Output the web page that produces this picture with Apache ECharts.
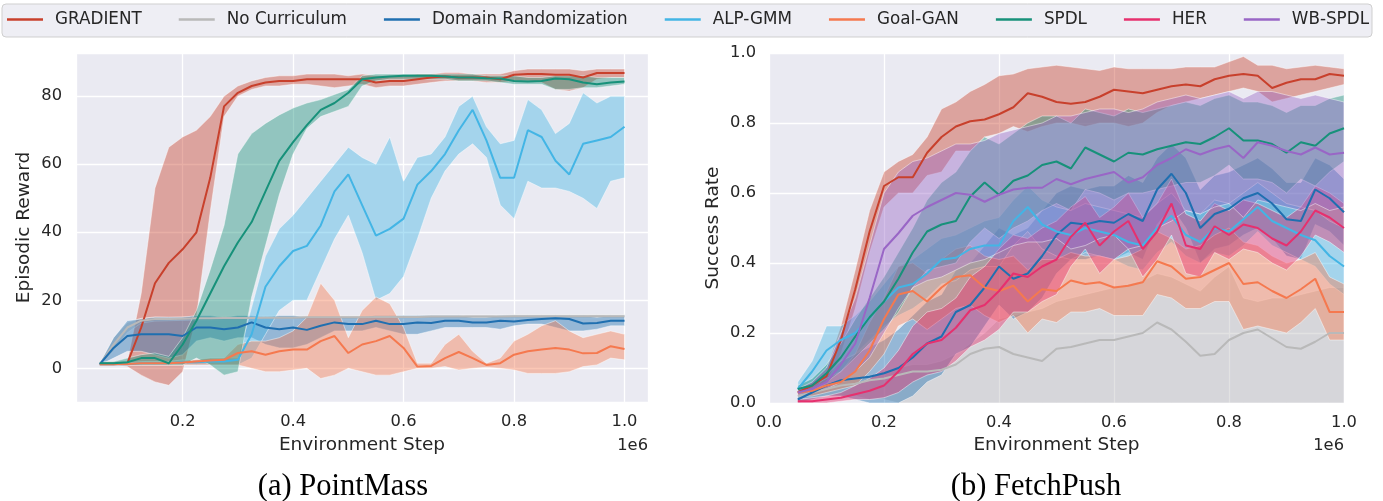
<!DOCTYPE html>
<html lang="en">
<head>
<meta charset="UTF-8">
<title>PointMass / FetchPush</title>
<script src="https://cdn.jsdelivr.net/npm/echarts@6/dist/echarts.min.js"></script>
<style>
    html, body { margin: 0; padding: 0; background: #fff; }
    #main { width: 1383px; height: 501px; }
</style>
</head>
<body>
<div id="main"></div>
<script>
// environment steps (x 1e6)
var steps = [0.05,0.075,0.1,0.125,0.15,0.175,0.2,0.225,0.25,0.275,0.3,0.325,0.35,0.375,0.4,0.425,0.45,0.475,0.5,0.525,0.55,0.575,0.6,0.625,0.65,0.675,0.7,0.725,0.75,0.775,0.8,0.825,0.85,0.875,0.9,0.925,0.95,0.975,1.0];

var methods = ['GRADIENT', 'No Curriculum', 'Domain Randomization', 'ALP-GMM', 'Goal-GAN', 'SPDL', 'HER', 'WB-SPDL'];

// ---- PointMass: episodic reward (mean, lower, upper)
var pmGradientMean = [1.2,1.2,1.5,12,25,31,35,40,56,77,81,83,84,84.5,84.5,85,85,85,85,85,84,84.5,84.5,85,85.5,85.8,85.5,85.5,85.5,85,86.3,86.5,86.5,86.3,86.3,85.5,86.8,86.8,86.8];
var pmGradientLow = [1,1,0.5,-2,-4,-5,-1,15,46,74,80,82,83,83,83.5,83.5,83,82.5,83,83.5,82.5,83,83,83.5,84,84.5,84.5,84.5,84,84,84.5,84.5,84,82,81.5,82.5,85,85.5,85.5];
var pmGradientHigh = [2,2,2,22,53,65,68,70,74,80,83,84.5,85.5,86,86,86.5,86.5,86.5,86,86.5,86,86,86,86.5,86.5,87,87,86.5,86.5,86.5,87.5,88,88,88,88,87.5,88,88,88];

var pmNoneMean = [1.2,7,12,14,14.5,14.5,14.6,14.7,14.7,14.8,14.8,14.8,14.9,14.9,14.9,15,15,15,15,15,15.1,15.1,15.1,15.1,15.2,15.2,15.2,15.2,15.2,15.2,15.3,15.3,15.3,15.3,15.3,15.3,15.3,15.3,15.3];
var pmNoneLow = [1,5,10.5,13.3,13.9,14,14.1,14.2,14.2,14.3,14.3,14.3,14.4,14.4,14.4,14.5,14.5,14.5,14.5,14.5,14.6,14.6,14.6,14.6,14.7,14.7,14.7,14.7,14.7,14.7,14.8,14.8,14.8,14.8,14.8,14.8,14.8,14.8,14.8];
var pmNoneHigh = [1.4,9,13.5,14.7,15.1,15,15.1,15.2,15.2,15.3,15.3,15.3,15.4,15.4,15.4,15.5,15.5,15.5,15.5,15.5,15.6,15.6,15.6,15.6,15.7,15.7,15.7,15.7,15.7,15.7,15.8,15.8,15.8,15.8,15.8,15.8,15.8,15.8,15.8];

var pmDrMean = [1.2,6,9.5,10,10,10,9.5,12,12,11.5,12,13.5,12,11.5,12,11.3,12.5,13.5,13,13,14,13,13,13.5,13.3,14,14,13.5,13.5,14,13.8,14.2,14.5,14.7,14.5,13.2,13.3,14,14];
var pmDrLow = [1,3,5,5,4,3,4,8,9,8,9,9,7,6,6,7,9,11,11,11,12,11,10,10,11,12,12,12,12,11.5,12.5,13,13,12,11,11,11.5,12.5,12.5];
var pmDrHigh = [1.5,9,14,14.5,15,15,15,15.5,15.5,15,15.5,15.5,15,15.5,15.5,15,15,15,15,15,15.5,15.5,15.5,15.5,15.5,15.5,15.5,15,15,15.5,15.5,15.5,15.5,15.5,15.5,15.5,15,15.5,15.5];

var pmAlpMean = [1.2,1.2,1.2,1.5,1.5,1.5,1.8,1.8,2,2,2.5,10,24,30,34.5,36,42,52,57,48,39,41,44,54,58,63,70,76,67,56,56,70,68,61,57,66,67,68,71];
var pmAlpLow = [1,1,1,1,1,1,1,1,1,1,1,3,10,17,20,20,29,38,45,34,20,22,27,38,50,58,63,66,62,48,44,55,53,53,52,50,47,55,56];
var pmAlpHigh = [1.5,1.5,1.5,2,2,2,2.5,2.5,3,3,3,18,33,41,45,50,55,60,65,62,60,68,55,62,63,68,77,80,71,66,67,79,76,69,72,81,78,80,80];

var pmGoalMean = [1.2,1.2,1.3,1.5,1.5,1.5,1.7,2,2.3,2.5,4.5,5,4,5,5.5,5.5,8,9.5,4.5,7,8,9.5,6,0.5,0.7,3,4.8,3,1,1.5,4,5,5.5,6,5.5,4.4,4.5,6.5,5.7];
var pmGoalLow = [1,1,1,1,1,1,1,1,1,1,1,0,-1,-1,-0.5,0,-3,-2,0,-1,-2,-2,-1,0,0,0.5,-0.5,0,0.3,0,-0.5,-1.5,-1.5,-1.5,-1,0.5,1,3,2.5];
var pmGoalHigh = [1.5,1.5,1.6,1.8,2,2,2.2,2.6,3,3,7,8,8,9,11,15,25,20,9,17,21,19,12,1.5,1.5,7,10,5,1.5,3,8,10,12.5,14,11,9,10,11,10];

var pmSpdlMean = [1.5,1.5,1.8,3,3,1.5,7,14,22,30,37,43,52,61,66.5,71.5,76,78,81,85,85.5,85.8,86,86,86,85.8,85.5,85.5,85.3,85.2,84.5,84.3,84.5,85.2,85,84,83.5,84,84.3];
var pmSpdlLow = [1,1,1,1,1,1,1,3,1,-2,-1,21,36,51,63,70.5,74,75.5,77,83,84.5,85,85,85,85,85,84.5,84.5,84.5,84,83.5,83.5,83.5,82,82,82.5,82.5,83,83.5];
var pmSpdlHigh = [2,2,3,4,4.5,3.5,9,17,29,42,63,69,72,74.5,76.5,78,79,80.5,82,86,86.5,86.5,86.5,86.5,86.5,86.5,86.5,86.5,86,86,86,85.5,85.5,86,86,86,85.5,85.5,85.5];

// ---- FetchPush: success rate (mean, lower, upper)
var fpGradientMean = [0.03,0.05,0.077,0.18,0.325,0.49,0.62,0.645,0.645,0.715,0.76,0.79,0.805,0.81,0.825,0.845,0.885,0.875,0.86,0.855,0.86,0.875,0.895,0.89,0.885,0.895,0.905,0.91,0.905,0.925,0.935,0.94,0.935,0.9,0.915,0.925,0.925,0.94,0.935];
var fpGradientLow = [0.02,0.04,0.06,0.14,0.27,0.43,0.56,0.6,0.6,0.65,0.66,0.72,0.72,0.76,0.77,0.79,0.775,0.79,0.8,0.8,0.79,0.8,0.8,0.79,0.8,0.83,0.85,0.86,0.87,0.88,0.89,0.9,0.89,0.86,0.87,0.88,0.89,0.9,0.91];
var fpGradientHigh = [0.04,0.06,0.1,0.22,0.38,0.55,0.66,0.69,0.71,0.76,0.84,0.86,0.89,0.91,0.935,0.94,0.955,0.96,0.965,0.96,0.955,0.95,0.96,0.955,0.955,0.955,0.955,0.96,0.96,0.96,0.975,0.99,0.965,0.965,0.955,0.96,0.965,0.96,0.955];

var fpNoneMean = [0.02,0.03,0.04,0.05,0.055,0.065,0.07,0.08,0.09,0.09,0.095,0.11,0.14,0.155,0.16,0.14,0.13,0.12,0.155,0.16,0.17,0.18,0.18,0.19,0.2,0.23,0.21,0.175,0.135,0.14,0.18,0.2,0.21,0.185,0.16,0.155,0.175,0.2,0.2];
var fpNoneLow = [0.01,0.015,0.02,0.02,0.02,0.01,0.01,0,0,0,0,0,0,0,0,0,0,0,0,0,0,0,0,0,0,0,0,0,0,0,0,0,0,0,0,0,0,0,0];
var fpNoneHigh = [0.03,0.04,0.05,0.06,0.07,0.08,0.09,0.1,0.11,0.11,0.12,0.14,0.17,0.2,0.24,0.25,0.26,0.27,0.29,0.3,0.31,0.32,0.33,0.34,0.35,0.37,0.36,0.34,0.32,0.36,0.39,0.3,0.29,0.3,0.3,0.31,0.32,0.33,0.33];

var fpDrMean = [0.01,0.03,0.05,0.065,0.07,0.075,0.085,0.1,0.13,0.17,0.19,0.26,0.28,0.33,0.39,0.355,0.37,0.42,0.48,0.515,0.51,0.52,0.515,0.54,0.52,0.61,0.655,0.6,0.5,0.54,0.555,0.585,0.6,0.57,0.525,0.52,0.61,0.585,0.545];
var fpDrLow = [0,0.01,0.02,0.02,0.01,0,0,0,0.02,0.06,0.08,0.14,0.16,0.22,0.28,0.24,0.26,0.3,0.37,0.41,0.41,0.42,0.41,0.43,0.41,0.51,0.56,0.5,0.4,0.44,0.45,0.48,0.5,0.47,0.42,0.41,0.51,0.49,0.45];
var fpDrHigh = [0.02,0.05,0.09,0.12,0.14,0.16,0.18,0.21,0.25,0.29,0.31,0.38,0.4,0.45,0.5,0.48,0.5,0.55,0.6,0.62,0.61,0.62,0.62,0.65,0.63,0.7,0.74,0.7,0.61,0.65,0.66,0.68,0.7,0.67,0.63,0.63,0.7,0.68,0.64];

var fpAlpMean = [0.04,0.09,0.15,0.18,0.2,0.245,0.29,0.33,0.34,0.37,0.41,0.415,0.44,0.45,0.45,0.52,0.56,0.51,0.49,0.48,0.5,0.49,0.48,0.46,0.45,0.5,0.535,0.48,0.46,0.5,0.49,0.525,0.56,0.52,0.5,0.48,0.465,0.42,0.39];
var fpAlpLow = [0.02,0.03,0.08,0.12,0.14,0.18,0.22,0.25,0.27,0.3,0.34,0.35,0.38,0.39,0.39,0.45,0.49,0.44,0.42,0.41,0.43,0.42,0.41,0.39,0.38,0.43,0.46,0.42,0.4,0.43,0.42,0.45,0.49,0.45,0.43,0.41,0.39,0.34,0.31];
var fpAlpHigh = [0.06,0.12,0.22,0.22,0.25,0.29,0.34,0.39,0.41,0.44,0.47,0.48,0.5,0.52,0.53,0.58,0.62,0.58,0.56,0.55,0.57,0.56,0.55,0.54,0.53,0.57,0.6,0.55,0.54,0.58,0.57,0.6,0.63,0.6,0.57,0.56,0.55,0.52,0.5];

var fpGoalMean = [0.03,0.035,0.05,0.06,0.09,0.15,0.24,0.31,0.32,0.29,0.33,0.36,0.365,0.33,0.32,0.335,0.29,0.325,0.32,0.35,0.34,0.345,0.33,0.335,0.345,0.405,0.39,0.355,0.36,0.38,0.4,0.34,0.345,0.32,0.3,0.325,0.355,0.26,0.26];
var fpGoalLow = [0.02,0.02,0.03,0.04,0.05,0.09,0.14,0.22,0.24,0.21,0.24,0.27,0.28,0.25,0.23,0.25,0.2,0.24,0.23,0.26,0.26,0.27,0.25,0.25,0.25,0.31,0.3,0.27,0.27,0.29,0.29,0.21,0.22,0.21,0.2,0.23,0.27,0.18,0.18];
var fpGoalHigh = [0.04,0.05,0.07,0.09,0.14,0.23,0.3,0.39,0.4,0.37,0.41,0.44,0.45,0.42,0.41,0.42,0.38,0.41,0.41,0.43,0.42,0.42,0.41,0.42,0.44,0.49,0.47,0.44,0.45,0.48,0.5,0.46,0.45,0.42,0.4,0.41,0.43,0.36,0.34];

var fpSpdlMean = [0.04,0.05,0.085,0.13,0.19,0.245,0.29,0.355,0.43,0.49,0.51,0.52,0.59,0.63,0.595,0.635,0.65,0.68,0.69,0.67,0.73,0.71,0.69,0.715,0.71,0.725,0.735,0.745,0.74,0.76,0.785,0.75,0.75,0.74,0.715,0.745,0.735,0.77,0.785];
var fpSpdlLow = [0.03,0.035,0.06,0.09,0.13,0.17,0.21,0.26,0.33,0.38,0.39,0.4,0.46,0.5,0.47,0.5,0.52,0.55,0.57,0.55,0.61,0.6,0.58,0.6,0.6,0.61,0.62,0.63,0.63,0.65,0.68,0.64,0.64,0.63,0.6,0.64,0.62,0.66,0.69];
var fpSpdlHigh = [0.05,0.07,0.11,0.17,0.24,0.3,0.36,0.43,0.5,0.58,0.63,0.66,0.72,0.76,0.74,0.77,0.8,0.82,0.82,0.8,0.84,0.83,0.82,0.84,0.83,0.84,0.85,0.86,0.85,0.87,0.88,0.86,0.86,0.85,0.83,0.85,0.85,0.87,0.88];

var fpHerMean = [0.005,0.005,0.01,0.015,0.025,0.035,0.05,0.09,0.14,0.17,0.18,0.215,0.265,0.28,0.32,0.37,0.36,0.39,0.41,0.475,0.515,0.45,0.49,0.52,0.44,0.49,0.57,0.45,0.44,0.505,0.48,0.51,0.5,0.47,0.45,0.49,0.55,0.53,0.5];
var fpHerLow = [0,0,0,0.005,0.01,0.01,0.015,0.03,0.06,0.08,0.09,0.12,0.16,0.18,0.21,0.26,0.26,0.29,0.31,0.39,0.44,0.37,0.41,0.44,0.36,0.41,0.48,0.37,0.36,0.43,0.41,0.44,0.43,0.4,0.38,0.42,0.48,0.46,0.43];
var fpHerHigh = [0.01,0.015,0.02,0.03,0.05,0.07,0.1,0.15,0.22,0.26,0.27,0.3,0.36,0.39,0.44,0.48,0.47,0.5,0.52,0.56,0.59,0.53,0.56,0.6,0.53,0.57,0.64,0.54,0.52,0.57,0.55,0.58,0.57,0.55,0.53,0.56,0.62,0.6,0.57];

var fpWbMean = [0.03,0.04,0.06,0.11,0.17,0.3,0.44,0.485,0.535,0.56,0.58,0.6,0.595,0.575,0.595,0.61,0.615,0.615,0.64,0.625,0.64,0.65,0.66,0.63,0.645,0.68,0.7,0.725,0.71,0.725,0.735,0.7,0.745,0.735,0.72,0.71,0.73,0.71,0.715];
var fpWbLow = [0.02,0.03,0.04,0.06,0.09,0.13,0.2,0.27,0.33,0.35,0.36,0.38,0.4,0.41,0.43,0.45,0.46,0.46,0.47,0.44,0.45,0.47,0.48,0.44,0.45,0.5,0.52,0.55,0.54,0.56,0.57,0.53,0.58,0.57,0.56,0.55,0.57,0.55,0.56];
var fpWbHigh = [0.04,0.06,0.1,0.2,0.3,0.45,0.6,0.66,0.69,0.7,0.72,0.74,0.74,0.75,0.77,0.78,0.79,0.8,0.82,0.82,0.83,0.84,0.84,0.83,0.84,0.86,0.87,0.88,0.87,0.88,0.89,0.87,0.89,0.89,0.88,0.87,0.88,0.87,0.86];

var colors = {
    'GRADIENT': '#c8402c',
    'No Curriculum': '#b9b9b9',
    'Domain Randomization': '#1f6fb0',
    'ALP-GMM': '#43b5e5',
    'Goal-GAN': '#f5794f',
    'SPDL': '#17917a',
    'HER': '#e6306e',
    'WB-SPDL': '#9966c6'
};

// [name, mean, low, high] per panel, in drawing order
var pointMass = [
    ['GRADIENT', pmGradientMean, pmGradientLow, pmGradientHigh],
    ['No Curriculum', pmNoneMean, pmNoneLow, pmNoneHigh],
    ['Domain Randomization', pmDrMean, pmDrLow, pmDrHigh],
    ['ALP-GMM', pmAlpMean, pmAlpLow, pmAlpHigh],
    ['Goal-GAN', pmGoalMean, pmGoalLow, pmGoalHigh],
    ['SPDL', pmSpdlMean, pmSpdlLow, pmSpdlHigh]
];
var fetchPush = [
    ['GRADIENT', fpGradientMean, fpGradientLow, fpGradientHigh],
    ['No Curriculum', fpNoneMean, fpNoneLow, fpNoneHigh],
    ['Domain Randomization', fpDrMean, fpDrLow, fpDrHigh],
    ['ALP-GMM', fpAlpMean, fpAlpLow, fpAlpHigh],
    ['Goal-GAN', fpGoalMean, fpGoalLow, fpGoalHigh],
    ['SPDL', fpSpdlMean, fpSpdlLow, fpSpdlHigh],
    ['HER', fpHerMean, fpHerLow, fpHerHigh],
    ['WB-SPDL', fpWbMean, fpWbLow, fpWbHigh]
];

function rgba(hex, a) {
    var n = parseInt(hex.slice(1), 16);
    return 'rgba(' + (n >> 16) + ',' + ((n >> 8) & 255) + ',' + (n & 255) + ',' + a + ')';
}

// shaded band as one polygon through the axis scales
function bandSeries(name, idx, low, high) {
    return {
        type: 'custom',
        name: name + ' band',
        xAxisIndex: idx,
        yAxisIndex: idx,
        clip: true,
        silent: true,
        z: 1,
        data: steps.map(function (x, i) { return [x, low[i], high[i]]; }),
        encode: { x: 0, y: [1, 2] },
        renderItem: function (params, api) {
            if (params.dataIndex !== 0) return;
            var pts = [];
            for (var i = 0; i < steps.length; i++) pts.push(api.coord([steps[i], high[i]]));
            for (var j = steps.length - 1; j >= 0; j--) pts.push(api.coord([steps[j], low[j]]));
            return {
                type: 'polygon',
                shape: { points: pts },
                style: { fill: rgba(colors[name], 0.42), stroke: 'rgba(255,255,255,0.45)', lineWidth: 1 }
            };
        }
    };
}

function lineSeries(name, idx, mean) {
    return {
        type: 'line',
        name: name,
        xAxisIndex: idx,
        yAxisIndex: idx,
        showSymbol: false,
        silent: true,
        z: 3,
        color: colors[name],
        lineStyle: { width: 2, color: colors[name] },
        data: steps.map(function (x, i) { return [x, mean[i]]; })
    };
}

var series = [];
[pointMass, fetchPush].forEach(function (panel, idx) {
    panel.forEach(function (m) { series.push(bandSeries(m[0], idx, m[2], m[3])); });
});
[pointMass, fetchPush].forEach(function (panel, idx) {
    panel.forEach(function (m) { series.push(lineSeries(m[0], idx, m[1])); });
});

var font = 'DejaVu Sans';
var textColor = '#262626';
var split = { show: true, lineStyle: { color: '#ffffff', width: 1.3 } };

function valueAxis(extra) {
    var base = {
        type: 'value',
        axisLine: { show: false },
        axisTick: { show: false },
        splitLine: split,
        nameTextStyle: { fontFamily: font, fontSize: 18.5, color: textColor },
        axisLabel: { fontFamily: font, fontSize: 16.3, color: textColor }
    };
    for (var k in extra) {
        if (k === 'axisLabel') {
            for (var a in extra.axisLabel) base.axisLabel[a] = extra.axisLabel[a];
        } else {
            base[k] = extra[k];
        }
    }
    return base;
}

var oneDecimal = function (v) { return v.toFixed(1); };

var chart = echarts.init(document.getElementById('main'));
chart.setOption({
    animation: false,
    backgroundColor: '#ffffff',
    grid: [
        { left: 76, top: 53, width: 572, height: 349, show: true, backgroundColor: '#eaeaf2', borderWidth: 0 },
        { left: 769, top: 53, width: 575, height: 350, show: true, backgroundColor: '#eaeaf2', borderWidth: 0 }
    ],
    xAxis: [
        valueAxis({ gridIndex: 0, min: 0.007, max: 1.0425, name: 'Environment Step', nameLocation: 'middle', nameGap: 34,
            axisLabel: { formatter: oneDecimal, showMinLabel: false, showMaxLabel: false, margin: 12 } }),
        valueAxis({ gridIndex: 1, min: 0, max: 1, interval: 0.2, name: 'Environment Step', nameLocation: 'middle', nameGap: 33,
            axisLabel: { formatter: oneDecimal, margin: 12 } })
    ],
    yAxis: [
        valueAxis({ gridIndex: 0, min: -9.9, max: 92.7, name: 'Episodic Reward', nameLocation: 'middle', nameGap: 42,
            axisLabel: { showMinLabel: false, showMaxLabel: false, margin: 14 } }),
        valueAxis({ gridIndex: 1, min: 0, max: 1, interval: 0.2, name: 'Success Rate', nameLocation: 'middle', nameGap: 46,
            axisLabel: { formatter: oneDecimal, margin: 13 } })
    ],
    legend: {
        data: methods,
        left: 7,
        top: 11,
        padding: 0,
        icon: 'rect',
        itemWidth: 36,
        itemHeight: 2.5,
        itemGap: 37,
        selectedMode: false,
        textStyle: { fontFamily: font, fontSize: 16.8, color: textColor, padding: [0, 0, 0, 7] }
    },
    graphic: [
        { type: 'rect', z: -1, shape: { x: 2, y: 4, width: 1370, height: 33, r: 4 },
          style: { fill: '#eeeef4', stroke: '#cfcfcf', lineWidth: 1 } },
        { type: 'text', x: 648, y: 446, style: { text: '1e6', fontFamily: font, fontSize: 16.3, fill: textColor, align: 'right', verticalAlign: 'middle' } },
        { type: 'text', x: 1344, y: 446, style: { text: '1e6', fontFamily: font, fontSize: 16.3, fill: textColor, align: 'right', verticalAlign: 'middle' } },
        { type: 'text', x: 343, y: 487, style: { text: '(a) PointMass', fontFamily: 'Liberation Serif', fontSize: 30.5, fill: '#000', align: 'center', verticalAlign: 'middle' } },
        { type: 'text', x: 1036, y: 487, style: { text: '(b) FetchPush', fontFamily: 'Liberation Serif', fontSize: 30.5, fill: '#000', align: 'center', verticalAlign: 'middle' } }
    ],
    series: series
});
</script>
</body>
</html>
